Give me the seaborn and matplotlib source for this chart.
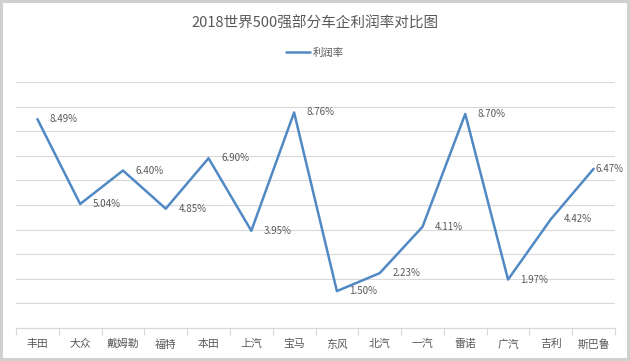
import matplotlib
matplotlib.use('Agg')
import matplotlib.pyplot as plt
import seaborn as sns
import pandas as pd

# 2018 profit margins (%)
companies = ['丰田', '大众', '戴姆勒', '福特', '本田', '上汽', '宝马',
             '东风', '北汽', '一汽', '雷诺', '广汽', '吉利', '斯巴鲁']
profit_rate = [8.49, 5.04, 6.40, 4.85, 6.90, 3.95, 8.76,
               1.50, 2.23, 4.11, 8.70, 1.97, 4.42, 6.47]
title_text = '2018世界500强部分车企利润率对比图'
series_name = '利润率'


def plot_graph(df, figsize):
    sns.set_theme(style='white')
    plt.rcParams['font.family'] = ['Noto Sans CJK SC', 'DejaVu Sans']
    line_color = '#5089C4'
    text_color = '#595959'

    fig = plt.figure(figsize=figsize, dpi=100)
    fig.patch.set_facecolor('white')
    fig.patch.set_edgecolor('#D0D0D0')
    fig.patch.set_linewidth(3)
    ax = fig.add_axes([0.0254, 0.0914, 0.9508, 0.6816])

    x = list(range(len(df)))
    sns.lineplot(ax=ax, x=x, y=df['rate'], color=line_color, linewidth=1.8,
                 label=series_name, legend=False)

    for i, v in enumerate(df['rate']):
        dx = 9 if i < len(df) - 1 else 1
        ax.annotate('{:.2f}%'.format(v), (i, v), xytext=(dx, 0),
                    textcoords='offset points', ha='left', va='center',
                    fontsize=7, color=text_color)

    ax.set_xlim(-0.5, len(df) - 0.5)
    ax.set_ylim(0, 10)
    ax.set_yticks(range(0, 11))
    ax.set_yticklabels([])
    ax.tick_params(axis='y', length=0)
    ax.grid(axis='y', color='#D9D9D9', linewidth=0.8)
    ax.set_axisbelow(True)
    for s in ['top', 'left', 'right']:
        ax.spines[s].set_visible(False)
    ax.spines['bottom'].set_color('#D9D9D9')
    ax.spines['bottom'].set_linewidth(0.8)

    # category labels centered, tick marks between categories
    ax.set_xticks(x)
    ax.set_xticklabels(df['company'], fontsize=7.8, color=text_color)
    ax.tick_params(axis='x', which='major', length=0, pad=8)
    ax.set_xticks([i - 0.5 for i in range(len(df) + 1)], minor=True)
    ax.tick_params(axis='x', which='minor', length=5, width=0.8,
                   color='#D9D9D9', bottom=True)
    ax.set_xlabel('')
    ax.set_ylabel('')

    fig.text(0.5, 0.935, title_text, ha='center', va='center',
             fontsize=10.5, color=text_color)
    handle = plt.Line2D([], [], color=line_color, linewidth=1.8)
    fig.legend([handle], [series_name], loc='center', bbox_to_anchor=(0.5, 0.853),
               frameon=False, fontsize=7.5, handlelength=2.3, handletextpad=0.3,
               labelcolor=text_color)

    plt.savefig('out.png', dpi=100)


if __name__ == "__main__":
    df_plot = pd.DataFrame({'company': companies, 'rate': profit_rate})
    plot_graph(df_plot, [6.3, 3.61])
